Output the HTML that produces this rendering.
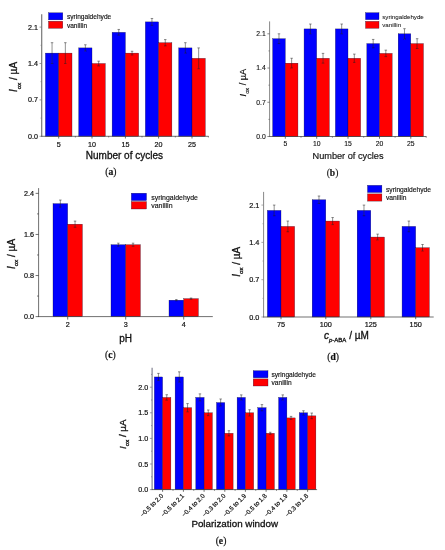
<!DOCTYPE html>
<html><head><meta charset="utf-8"><title>Figure</title>
<style>
html,body{margin:0;padding:0;background:#fff;}
svg{display:block;font-family:"Liberation Sans",sans-serif;fill:#111;}
text{stroke:#111;stroke-width:0.2px;}
.t{stroke-width:0.3px;}
.l{stroke-width:0.14px;}
.pb text{stroke-width:0.12px;}
.pb .t{stroke-width:0.16px;}
.pb .l{stroke-width:0.05px;}
</style></head><body>
<svg width="445" height="550" viewBox="0 0 445 550">
<defs><filter id="soft" x="0" y="0" width="445" height="550" filterUnits="userSpaceOnUse"><feGaussianBlur stdDeviation="0.32"/></filter></defs>
<rect width="445" height="550" fill="#fff"/>
<g filter="url(#soft)">
<rect width="445" height="550" fill="#fff"/>
<g class="">
<rect x="45.40" y="53.10" width="13.30" height="83.20" fill="#0000ff" stroke="#113" stroke-width="0.3"/>
<path d="M52.05 42.70V63.50M50.80 42.70h2.50M50.80 63.50h2.50" stroke="#222" stroke-width="0.5" fill="none"/>
<rect x="58.70" y="53.10" width="13.30" height="83.20" fill="#ff0000" stroke="#113" stroke-width="0.3"/>
<path d="M65.35 42.70V63.50M64.10 42.70h2.50M64.10 63.50h2.50" stroke="#222" stroke-width="0.5" fill="none"/>
<rect x="78.70" y="47.90" width="13.30" height="88.40" fill="#0000ff" stroke="#113" stroke-width="0.3"/>
<path d="M85.35 44.78V51.02M84.10 44.78h2.50M84.10 51.02h2.50" stroke="#222" stroke-width="0.5" fill="none"/>
<rect x="92.00" y="63.50" width="13.30" height="72.80" fill="#ff0000" stroke="#113" stroke-width="0.3"/>
<path d="M98.65 61.16V65.84M97.40 61.16h2.50M97.40 65.84h2.50" stroke="#222" stroke-width="0.5" fill="none"/>
<rect x="112.10" y="32.30" width="13.30" height="104.00" fill="#0000ff" stroke="#113" stroke-width="0.3"/>
<path d="M118.75 29.44V35.16M117.50 29.44h2.50M117.50 35.16h2.50" stroke="#222" stroke-width="0.5" fill="none"/>
<rect x="125.40" y="53.10" width="13.30" height="83.20" fill="#ff0000" stroke="#113" stroke-width="0.3"/>
<path d="M132.05 51.28V54.92M130.80 51.28h2.50M130.80 54.92h2.50" stroke="#222" stroke-width="0.5" fill="none"/>
<rect x="145.30" y="21.90" width="13.30" height="114.40" fill="#0000ff" stroke="#113" stroke-width="0.3"/>
<path d="M151.95 18.47V25.33M150.70 18.47h2.50M150.70 25.33h2.50" stroke="#222" stroke-width="0.5" fill="none"/>
<rect x="158.60" y="42.70" width="13.30" height="93.60" fill="#ff0000" stroke="#113" stroke-width="0.3"/>
<path d="M165.25 39.58V45.82M164.00 39.58h2.50M164.00 45.82h2.50" stroke="#222" stroke-width="0.5" fill="none"/>
<rect x="178.70" y="47.90" width="13.30" height="88.40" fill="#0000ff" stroke="#113" stroke-width="0.3"/>
<path d="M185.35 42.70V53.10M184.10 42.70h2.50M184.10 53.10h2.50" stroke="#222" stroke-width="0.5" fill="none"/>
<rect x="192.00" y="58.30" width="13.30" height="78.00" fill="#ff0000" stroke="#113" stroke-width="0.3"/>
<path d="M198.65 47.90V68.70M197.40 47.90h2.50M197.40 68.70h2.50" stroke="#222" stroke-width="0.5" fill="none"/>
<path d="M41.70 14.20V136.65" stroke="#777" stroke-width="1.2" fill="none"/>
<path d="M41.10 136.30H208.60" stroke="#333" stroke-width="0.7" fill="none"/>
<text x="37.90" y="138.87" font-size="7.15" text-anchor="end">0.0</text>
<text x="37.90" y="102.47" font-size="7.15" text-anchor="end">0.7</text>
<text x="37.90" y="66.07" font-size="7.15" text-anchor="end">1.4</text>
<text x="37.90" y="29.67" font-size="7.15" text-anchor="end">2.1</text>
<path d="M41.70 136.30h-2.20M41.70 99.90h-2.20M41.70 63.50h-2.20M41.70 27.10h-2.20M41.70 118.10h-1.10M41.70 81.70h-1.10M41.70 45.30h-1.10" stroke="#777" stroke-width="0.7" fill="none"/>
<path d="M58.70 136.30v2.20M92.00 136.30v2.20M125.40 136.30v2.20M158.60 136.30v2.20M192.00 136.30v2.20M75.35 136.30v1.10M108.70 136.30v1.10M142.00 136.30v1.10M175.30 136.30v1.10M208.40 136.30v1.10" stroke="#333" stroke-width="0.7" fill="none"/>
<text x="58.70" y="146.50" font-size="7.15" text-anchor="middle">5</text>
<text x="92.00" y="146.50" font-size="7.15" text-anchor="middle">10</text>
<text x="125.40" y="146.50" font-size="7.15" text-anchor="middle">15</text>
<text x="158.60" y="146.50" font-size="7.15" text-anchor="middle">20</text>
<text x="192.00" y="146.50" font-size="7.15" text-anchor="middle">25</text>
<text x="124.40" y="159.30" font-size="10.0" text-anchor="middle" class="t">Number of cycles</text>
<text transform="translate(17.10,77.00) rotate(-90)" font-size="10.0" text-anchor="middle" class="t"><tspan font-style="italic">I</tspan><tspan font-size="6.20" dy="3.40">ox</tspan><tspan dy="-3.40"> / µA</tspan></text>
<rect x="48.50" y="12.80" width="14.30" height="7.10" fill="#0000ff" stroke="#113" stroke-width="0.3"/>
<rect x="48.50" y="21.20" width="14.30" height="7.10" fill="#ff0000" stroke="#113" stroke-width="0.3"/>
<text x="66.90" y="19.23" font-size="6.6" class="l">syringaldehyde</text>
<text x="66.90" y="27.63" font-size="6.6" class="l">vanillin</text>
<text x="110.80" y="175.30" font-size="9.6" text-anchor="middle" font-family="'Liberation Serif',serif">(<tspan font-weight="bold">a</tspan>)</text>
</g>
<g class="pb">
<rect x="272.65" y="38.70" width="12.65" height="97.80" fill="#0000ff" stroke="#113" stroke-width="0.3"/>
<path d="M278.98 33.81V43.59M277.73 33.81h2.50M277.73 43.59h2.50" stroke="#222" stroke-width="0.5" fill="none"/>
<rect x="285.30" y="63.15" width="12.65" height="73.35" fill="#ff0000" stroke="#113" stroke-width="0.3"/>
<path d="M291.62 58.26V68.04M290.38 58.26h2.50M290.38 68.04h2.50" stroke="#222" stroke-width="0.5" fill="none"/>
<rect x="304.05" y="28.92" width="12.65" height="107.58" fill="#0000ff" stroke="#113" stroke-width="0.3"/>
<path d="M310.38 24.03V33.81M309.12 24.03h2.50M309.12 33.81h2.50" stroke="#222" stroke-width="0.5" fill="none"/>
<rect x="316.70" y="58.26" width="12.65" height="78.24" fill="#ff0000" stroke="#113" stroke-width="0.3"/>
<path d="M323.02 53.37V63.15M321.77 53.37h2.50M321.77 63.15h2.50" stroke="#222" stroke-width="0.5" fill="none"/>
<rect x="335.35" y="28.92" width="12.65" height="107.58" fill="#0000ff" stroke="#113" stroke-width="0.3"/>
<path d="M341.68 24.03V33.81M340.43 24.03h2.50M340.43 33.81h2.50" stroke="#222" stroke-width="0.5" fill="none"/>
<rect x="348.00" y="58.26" width="12.65" height="78.24" fill="#ff0000" stroke="#113" stroke-width="0.3"/>
<path d="M354.32 54.10V62.42M353.07 54.10h2.50M353.07 62.42h2.50" stroke="#222" stroke-width="0.5" fill="none"/>
<rect x="366.85" y="43.59" width="12.65" height="92.91" fill="#0000ff" stroke="#113" stroke-width="0.3"/>
<path d="M373.18 39.43V47.75M371.93 39.43h2.50M371.93 47.75h2.50" stroke="#222" stroke-width="0.5" fill="none"/>
<rect x="379.50" y="53.37" width="12.65" height="83.13" fill="#ff0000" stroke="#113" stroke-width="0.3"/>
<path d="M385.82 50.14V56.60M384.57 50.14h2.50M384.57 56.60h2.50" stroke="#222" stroke-width="0.5" fill="none"/>
<rect x="398.15" y="33.81" width="12.65" height="102.69" fill="#0000ff" stroke="#113" stroke-width="0.3"/>
<path d="M404.48 28.68V38.94M403.23 28.68h2.50M403.23 38.94h2.50" stroke="#222" stroke-width="0.5" fill="none"/>
<rect x="410.80" y="43.59" width="12.65" height="92.91" fill="#ff0000" stroke="#113" stroke-width="0.3"/>
<path d="M417.12 38.70V48.48M415.88 38.70h2.50M415.88 48.48h2.50" stroke="#222" stroke-width="0.5" fill="none"/>
<path d="M269.60 21.40V136.85" stroke="#555" stroke-width="0.7" fill="none"/>
<path d="M269.25 136.50H426.40" stroke="#333" stroke-width="0.7" fill="none"/>
<text x="265.80" y="138.95" font-size="6.8" text-anchor="end">0.0</text>
<text x="265.80" y="104.72" font-size="6.8" text-anchor="end">0.7</text>
<text x="265.80" y="70.49" font-size="6.8" text-anchor="end">1.4</text>
<text x="265.80" y="36.26" font-size="6.8" text-anchor="end">2.1</text>
<path d="M269.60 136.50h-2.20M269.60 102.27h-2.20M269.60 68.04h-2.20M269.60 33.81h-2.20M269.60 119.39h-1.10M269.60 85.16h-1.10M269.60 50.92h-1.10" stroke="#555" stroke-width="0.7" fill="none"/>
<path d="M285.30 136.50v2.20M316.70 136.50v2.20M348.00 136.50v2.20M379.50 136.50v2.20M410.80 136.50v2.20M301.00 136.50v1.10M332.40 136.50v1.10M363.70 136.50v1.10M395.10 136.50v1.10M426.20 136.50v1.10" stroke="#333" stroke-width="0.7" fill="none"/>
<text x="285.30" y="146.00" font-size="6.8" text-anchor="middle">5</text>
<text x="316.70" y="146.00" font-size="6.8" text-anchor="middle">10</text>
<text x="348.00" y="146.00" font-size="6.8" text-anchor="middle">15</text>
<text x="379.50" y="146.00" font-size="6.8" text-anchor="middle">20</text>
<text x="410.80" y="146.00" font-size="6.8" text-anchor="middle">25</text>
<text x="348.00" y="159.00" font-size="9.2" text-anchor="middle" class="t">Number of cycles</text>
<text transform="translate(246.30,82.60) rotate(-90)" font-size="9.2" text-anchor="middle" class="t"><tspan font-style="italic">I</tspan><tspan font-size="5.70" dy="3.13">ox</tspan><tspan dy="-3.13"> / µA</tspan></text>
<rect x="365.50" y="12.70" width="13.50" height="7.00" fill="#0000ff" stroke="#113" stroke-width="0.3"/>
<rect x="365.50" y="21.30" width="13.50" height="7.00" fill="#ff0000" stroke="#113" stroke-width="0.3"/>
<text x="382.20" y="18.75" font-size="6.2" class="l">syringaldehyde</text>
<text x="382.20" y="27.35" font-size="6.2" class="l">vanillin</text>
<text x="332.50" y="175.60" font-size="9.6" text-anchor="middle" font-family="'Liberation Serif',serif">(<tspan font-weight="bold">b</tspan>)</text>
</g>
<g class="">
<rect x="53.00" y="203.63" width="14.70" height="112.97" fill="#0000ff" stroke="#113" stroke-width="0.3"/>
<path d="M60.35 200.04V207.22M59.10 200.04h2.50M59.10 207.22h2.50" stroke="#222" stroke-width="0.5" fill="none"/>
<rect x="67.70" y="224.17" width="14.70" height="92.43" fill="#ff0000" stroke="#113" stroke-width="0.3"/>
<path d="M75.05 221.09V227.25M73.80 221.09h2.50M73.80 227.25h2.50" stroke="#222" stroke-width="0.5" fill="none"/>
<rect x="111.00" y="244.71" width="14.70" height="71.89" fill="#0000ff" stroke="#113" stroke-width="0.3"/>
<path d="M118.35 243.17V246.25M117.10 243.17h2.50M117.10 246.25h2.50" stroke="#222" stroke-width="0.5" fill="none"/>
<rect x="125.70" y="244.71" width="14.70" height="71.89" fill="#ff0000" stroke="#113" stroke-width="0.3"/>
<path d="M133.05 243.17V246.25M131.80 243.17h2.50M131.80 246.25h2.50" stroke="#222" stroke-width="0.5" fill="none"/>
<rect x="169.00" y="300.17" width="14.70" height="16.43" fill="#0000ff" stroke="#113" stroke-width="0.3"/>
<path d="M176.35 299.55V300.78M175.10 299.55h2.50M175.10 300.78h2.50" stroke="#222" stroke-width="0.5" fill="none"/>
<rect x="183.70" y="298.63" width="14.70" height="17.97" fill="#ff0000" stroke="#113" stroke-width="0.3"/>
<path d="M191.05 298.01V299.24M189.80 298.01h2.50M189.80 299.24h2.50" stroke="#222" stroke-width="0.5" fill="none"/>
<path d="M38.60 188.10V316.95" stroke="#333" stroke-width="0.7" fill="none"/>
<path d="M38.25 316.60H212.80" stroke="#333" stroke-width="0.7" fill="none"/>
<text x="34.00" y="319.19" font-size="7.2" text-anchor="end">0.0</text>
<text x="34.00" y="278.11" font-size="7.2" text-anchor="end">0.8</text>
<text x="34.00" y="237.03" font-size="7.2" text-anchor="end">1.6</text>
<text x="34.00" y="195.95" font-size="7.2" text-anchor="end">2.4</text>
<path d="M38.60 316.60h-3.00M38.60 275.52h-3.00M38.60 234.44h-3.00M38.60 193.36h-3.00M38.60 296.06h-1.50M38.60 254.98h-1.50M38.60 213.90h-1.50" stroke="#333" stroke-width="0.7" fill="none"/>
<path d="M67.70 316.60v3.00M125.70 316.60v3.00M183.70 316.60v3.00" stroke="#333" stroke-width="0.7" fill="none"/>
<text x="67.70" y="326.60" font-size="7.2" text-anchor="middle">2</text>
<text x="125.70" y="326.60" font-size="7.2" text-anchor="middle">3</text>
<text x="183.70" y="326.60" font-size="7.2" text-anchor="middle">4</text>
<text x="125.70" y="342.00" font-size="10.0" text-anchor="middle" class="t">pH</text>
<text transform="translate(14.60,254.00) rotate(-90)" font-size="10.0" text-anchor="middle" class="t"><tspan font-style="italic">I</tspan><tspan font-size="6.20" dy="3.40">ox</tspan><tspan dy="-3.40"> / µA</tspan></text>
<rect x="131.30" y="193.20" width="15.20" height="7.40" fill="#0000ff" stroke="#113" stroke-width="0.3"/>
<rect x="131.30" y="201.60" width="15.20" height="7.40" fill="#ff0000" stroke="#113" stroke-width="0.3"/>
<text x="151.30" y="199.69" font-size="6.95" class="l">syringaldehyde</text>
<text x="151.30" y="208.09" font-size="6.95" class="l">vanillin</text>
<text x="110.30" y="358.30" font-size="9.6" text-anchor="middle" font-family="'Liberation Serif',serif">(<tspan font-weight="bold">c</tspan>)</text>
</g>
<g class="">
<rect x="267.35" y="210.40" width="13.65" height="106.60" fill="#0000ff" stroke="#113" stroke-width="0.3"/>
<path d="M274.18 205.07V215.73M272.93 205.07h2.50M272.93 215.73h2.50" stroke="#222" stroke-width="0.5" fill="none"/>
<rect x="281.00" y="226.39" width="13.65" height="90.61" fill="#ff0000" stroke="#113" stroke-width="0.3"/>
<path d="M287.82 221.06V231.72M286.57 221.06h2.50M286.57 231.72h2.50" stroke="#222" stroke-width="0.5" fill="none"/>
<rect x="312.15" y="199.74" width="13.65" height="117.26" fill="#0000ff" stroke="#113" stroke-width="0.3"/>
<path d="M318.98 196.01V203.47M317.73 196.01h2.50M317.73 203.47h2.50" stroke="#222" stroke-width="0.5" fill="none"/>
<rect x="325.80" y="221.06" width="13.65" height="95.94" fill="#ff0000" stroke="#113" stroke-width="0.3"/>
<path d="M332.62 217.54V224.58M331.38 217.54h2.50M331.38 224.58h2.50" stroke="#222" stroke-width="0.5" fill="none"/>
<rect x="357.15" y="210.40" width="13.65" height="106.60" fill="#0000ff" stroke="#113" stroke-width="0.3"/>
<path d="M363.98 205.07V215.73M362.73 205.07h2.50M362.73 215.73h2.50" stroke="#222" stroke-width="0.5" fill="none"/>
<rect x="370.80" y="237.05" width="13.65" height="79.95" fill="#ff0000" stroke="#113" stroke-width="0.3"/>
<path d="M377.62 234.12V239.98M376.38 234.12h2.50M376.38 239.98h2.50" stroke="#222" stroke-width="0.5" fill="none"/>
<rect x="402.05" y="226.39" width="13.65" height="90.61" fill="#0000ff" stroke="#113" stroke-width="0.3"/>
<path d="M408.88 221.06V231.72M407.62 221.06h2.50M407.62 231.72h2.50" stroke="#222" stroke-width="0.5" fill="none"/>
<rect x="415.70" y="247.71" width="13.65" height="69.29" fill="#ff0000" stroke="#113" stroke-width="0.3"/>
<path d="M422.52 244.51V250.91M421.27 244.51h2.50M421.27 250.91h2.50" stroke="#222" stroke-width="0.5" fill="none"/>
<path d="M263.60 191.90V317.35" stroke="#888" stroke-width="1.0" fill="none"/>
<path d="M263.10 317.00H433.70" stroke="#333" stroke-width="0.7" fill="none"/>
<text x="259.40" y="319.63" font-size="7.3" text-anchor="end">0.0</text>
<text x="259.40" y="282.32" font-size="7.3" text-anchor="end">0.7</text>
<text x="259.40" y="245.01" font-size="7.3" text-anchor="end">1.4</text>
<text x="259.40" y="207.70" font-size="7.3" text-anchor="end">2.1</text>
<path d="M263.60 317.00h-2.20M263.60 279.69h-2.20M263.60 242.38h-2.20M263.60 205.07h-2.20M263.60 298.35h-1.10M263.60 261.04h-1.10M263.60 223.73h-1.10" stroke="#888" stroke-width="0.7" fill="none"/>
<path d="M281.00 317.00v2.20M325.80 317.00v2.20M370.80 317.00v2.20M415.70 317.00v2.20" stroke="#333" stroke-width="0.7" fill="none"/>
<text x="281.00" y="326.80" font-size="7.3" text-anchor="middle">75</text>
<text x="325.80" y="326.80" font-size="7.3" text-anchor="middle">100</text>
<text x="370.80" y="326.80" font-size="7.3" text-anchor="middle">125</text>
<text x="415.70" y="326.80" font-size="7.3" text-anchor="middle">150</text>
<text x="346.40" y="338.60" font-size="10.0" text-anchor="middle" class="t"></text>
<text transform="translate(239.50,261.80) rotate(-90)" font-size="10.0" text-anchor="middle" class="t"><tspan font-style="italic">I</tspan><tspan font-size="6.20" dy="3.40">ox</tspan><tspan dy="-3.40"> / µA</tspan></text>
<rect x="367.50" y="185.30" width="14.40" height="7.20" fill="#0000ff" stroke="#113" stroke-width="0.3"/>
<rect x="367.50" y="193.90" width="14.40" height="7.20" fill="#ff0000" stroke="#113" stroke-width="0.3"/>
<text x="386.00" y="191.61" font-size="6.7" class="l">syringaldehyde</text>
<text x="386.00" y="200.21" font-size="6.7" class="l">vanillin</text>
<text x="333.20" y="359.60" font-size="9.6" text-anchor="middle" font-family="'Liberation Serif',serif">(<tspan font-weight="bold">d</tspan>)</text>
</g>
<g class="">
<rect x="154.30" y="376.96" width="8.30" height="112.64" fill="#0000ff" stroke="#113" stroke-width="0.3"/>
<path d="M158.45 373.38V380.54M157.20 373.38h2.50M157.20 380.54h2.50" stroke="#222" stroke-width="0.5" fill="none"/>
<rect x="162.60" y="397.44" width="8.30" height="92.16" fill="#ff0000" stroke="#113" stroke-width="0.3"/>
<path d="M166.75 394.73V400.15M165.50 394.73h2.50M165.50 400.15h2.50" stroke="#222" stroke-width="0.5" fill="none"/>
<rect x="175.10" y="376.96" width="8.30" height="112.64" fill="#0000ff" stroke="#113" stroke-width="0.3"/>
<path d="M179.25 371.84V382.08M178.00 371.84h2.50M178.00 382.08h2.50" stroke="#222" stroke-width="0.5" fill="none"/>
<rect x="183.40" y="407.68" width="8.30" height="81.92" fill="#ff0000" stroke="#113" stroke-width="0.3"/>
<path d="M187.55 403.58V411.78M186.30 403.58h2.50M186.30 411.78h2.50" stroke="#222" stroke-width="0.5" fill="none"/>
<rect x="195.80" y="397.44" width="8.30" height="92.16" fill="#0000ff" stroke="#113" stroke-width="0.3"/>
<path d="M199.95 393.86V401.02M198.70 393.86h2.50M198.70 401.02h2.50" stroke="#222" stroke-width="0.5" fill="none"/>
<rect x="204.10" y="412.80" width="8.30" height="76.80" fill="#ff0000" stroke="#113" stroke-width="0.3"/>
<path d="M208.25 409.98V415.62M207.00 409.98h2.50M207.00 415.62h2.50" stroke="#222" stroke-width="0.5" fill="none"/>
<rect x="216.50" y="402.56" width="8.30" height="87.04" fill="#0000ff" stroke="#113" stroke-width="0.3"/>
<path d="M220.65 398.98V406.14M219.40 398.98h2.50M219.40 406.14h2.50" stroke="#222" stroke-width="0.5" fill="none"/>
<rect x="224.80" y="433.28" width="8.30" height="56.32" fill="#ff0000" stroke="#113" stroke-width="0.3"/>
<path d="M228.95 430.72V435.84M227.70 430.72h2.50M227.70 435.84h2.50" stroke="#222" stroke-width="0.5" fill="none"/>
<rect x="237.10" y="397.44" width="8.30" height="92.16" fill="#0000ff" stroke="#113" stroke-width="0.3"/>
<path d="M241.25 394.88V400.00M240.00 394.88h2.50M240.00 400.00h2.50" stroke="#222" stroke-width="0.5" fill="none"/>
<rect x="245.40" y="412.80" width="8.30" height="76.80" fill="#ff0000" stroke="#113" stroke-width="0.3"/>
<path d="M249.55 409.73V415.87M248.30 409.73h2.50M248.30 415.87h2.50" stroke="#222" stroke-width="0.5" fill="none"/>
<rect x="257.80" y="407.68" width="8.30" height="81.92" fill="#0000ff" stroke="#113" stroke-width="0.3"/>
<path d="M261.95 404.61V410.75M260.70 404.61h2.50M260.70 410.75h2.50" stroke="#222" stroke-width="0.5" fill="none"/>
<rect x="266.10" y="433.28" width="8.30" height="56.32" fill="#ff0000" stroke="#113" stroke-width="0.3"/>
<path d="M270.25 432.26V434.30M269.00 432.26h2.50M269.00 434.30h2.50" stroke="#222" stroke-width="0.5" fill="none"/>
<rect x="278.60" y="397.44" width="8.30" height="92.16" fill="#0000ff" stroke="#113" stroke-width="0.3"/>
<path d="M282.75 394.88V400.00M281.50 394.88h2.50M281.50 400.00h2.50" stroke="#222" stroke-width="0.5" fill="none"/>
<rect x="286.90" y="417.92" width="8.30" height="71.68" fill="#ff0000" stroke="#113" stroke-width="0.3"/>
<path d="M291.05 416.38V419.46M289.80 416.38h2.50M289.80 419.46h2.50" stroke="#222" stroke-width="0.5" fill="none"/>
<rect x="299.30" y="412.80" width="8.30" height="76.80" fill="#0000ff" stroke="#113" stroke-width="0.3"/>
<path d="M303.45 410.75V414.85M302.20 410.75h2.50M302.20 414.85h2.50" stroke="#222" stroke-width="0.5" fill="none"/>
<rect x="307.60" y="415.87" width="8.30" height="73.73" fill="#ff0000" stroke="#113" stroke-width="0.3"/>
<path d="M311.75 413.06V418.69M310.50 413.06h2.50M310.50 418.69h2.50" stroke="#222" stroke-width="0.5" fill="none"/>
<path d="M152.10 367.70V489.95" stroke="#778" stroke-width="1.1" fill="none"/>
<path d="M151.55 489.60H317.10" stroke="#333" stroke-width="0.7" fill="none"/>
<text x="148.30" y="492.17" font-size="7.15" text-anchor="end">0.0</text>
<text x="148.30" y="466.57" font-size="7.15" text-anchor="end">0.5</text>
<text x="148.30" y="440.97" font-size="7.15" text-anchor="end">1.0</text>
<text x="148.30" y="415.37" font-size="7.15" text-anchor="end">1.5</text>
<text x="148.30" y="389.77" font-size="7.15" text-anchor="end">2.0</text>
<path d="M152.10 489.60h-2.20M152.10 464.00h-2.20M152.10 438.40h-2.20M152.10 412.80h-2.20M152.10 387.20h-2.20M152.10 476.80h-1.10M152.10 451.20h-1.10M152.10 425.60h-1.10M152.10 400.00h-1.10M152.10 374.40h-1.10" stroke="#778" stroke-width="0.7" fill="none"/>
<path d="M162.60 489.60v2.20M183.40 489.60v2.20M204.10 489.60v2.20M224.80 489.60v2.20M245.40 489.60v2.20M266.10 489.60v2.20M286.90 489.60v2.20M307.60 489.60v2.20M173.00 489.60v1.10M193.75 489.60v1.10M214.45 489.60v1.10M235.10 489.60v1.10M255.75 489.60v1.10M276.50 489.60v1.10M297.25 489.60v1.10" stroke="#333" stroke-width="0.7" fill="none"/>
<text transform="translate(163.80,496.20) rotate(-45)" font-size="6.3" text-anchor="end">−0.5 to 2.0</text>
<text transform="translate(184.60,496.20) rotate(-45)" font-size="6.3" text-anchor="end">−0.5 to 2.1</text>
<text transform="translate(205.30,496.20) rotate(-45)" font-size="6.3" text-anchor="end">−0.4 to 2.0</text>
<text transform="translate(226.00,496.20) rotate(-45)" font-size="6.3" text-anchor="end">−0.3 to 2.0</text>
<text transform="translate(246.60,496.20) rotate(-45)" font-size="6.3" text-anchor="end">−0.5 to 1.9</text>
<text transform="translate(267.30,496.20) rotate(-45)" font-size="6.3" text-anchor="end">−0.5 to 1.8</text>
<text transform="translate(288.10,496.20) rotate(-45)" font-size="6.3" text-anchor="end">−0.4 to 1.9</text>
<text transform="translate(308.80,496.20) rotate(-45)" font-size="6.3" text-anchor="end">−0.3 to 1.8</text>
<text x="234.70" y="527.00" font-size="9.8" text-anchor="middle" class="t">Polarization window</text>
<text transform="translate(126.10,434.20) rotate(-90)" font-size="9.8" text-anchor="middle" class="t"><tspan font-style="italic">I</tspan><tspan font-size="6.08" dy="3.33">ox</tspan><tspan dy="-3.33"> / µA</tspan></text>
<rect x="253.20" y="370.70" width="14.80" height="7.10" fill="#0000ff" stroke="#113" stroke-width="0.3"/>
<rect x="253.20" y="378.90" width="14.80" height="7.10" fill="#ff0000" stroke="#113" stroke-width="0.3"/>
<text x="271.50" y="376.93" font-size="6.6" class="l">syringaldehyde</text>
<text x="271.50" y="385.13" font-size="6.6" class="l">vanillin</text>
<text x="221.00" y="544.00" font-size="9.6" text-anchor="middle" font-family="'Liberation Serif',serif">(<tspan font-weight="bold">e</tspan>)</text>
</g>
<text x="346.40" y="338.60" font-size="10.0" text-anchor="middle" class="t"><tspan font-style="italic">c</tspan><tspan font-size="6.00" dy="3.80"><tspan font-style="italic">p</tspan>-ABA</tspan><tspan dy="-3.80"> / µM</tspan></text>
</g>
</svg>
</body></html>
